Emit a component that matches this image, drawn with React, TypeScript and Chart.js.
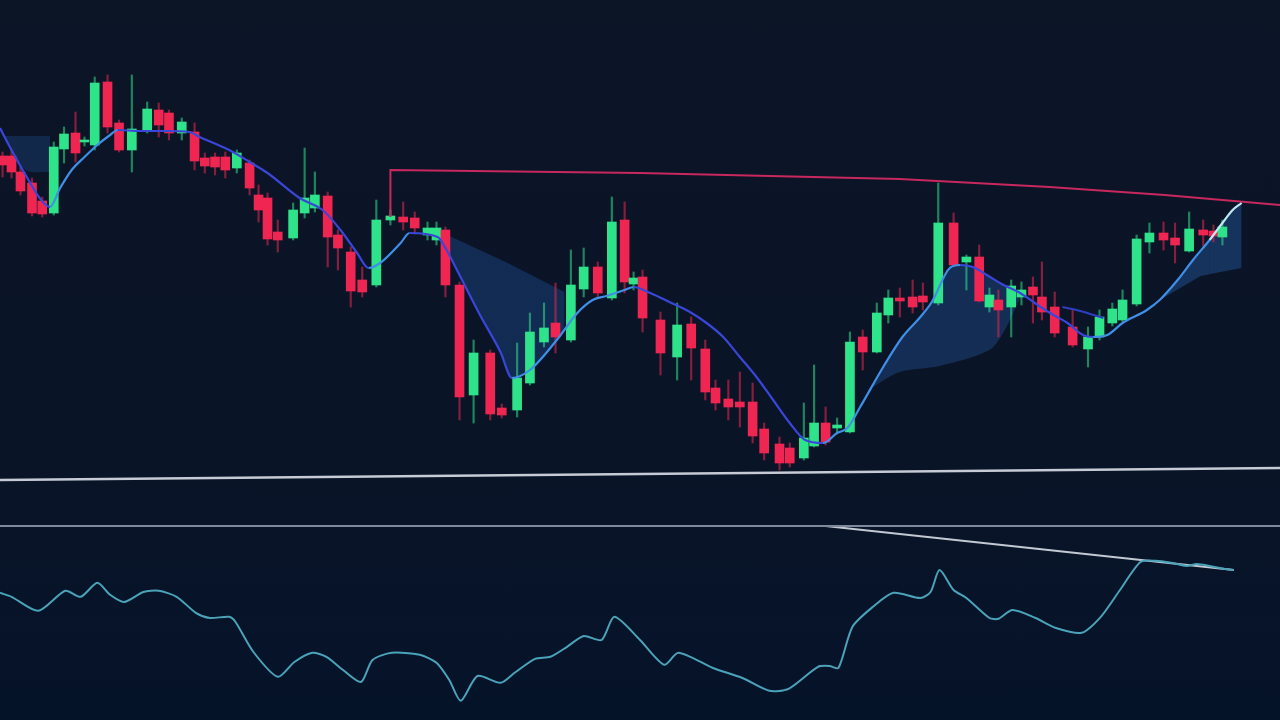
import { useEffect, useRef } from 'react';
import { Chart, registerables } from 'chart.js';

Chart.register(...registerables);

// ---- Candles (time in session units, prices) ----
const times = [
  0.2, 0.9, 1.6, 2.5, 3.3, 4.2, 5.0, 5.9, 6.6, 7.4,
  8.4, 9.3, 10.3, 11.5, 12.4, 13.2, 14.2, 15.2, 16.0, 16.8,
  17.6, 18.5, 19.5, 20.2, 20.9, 21.7, 22.9, 23.8, 24.6, 25.6,
  26.4, 27.4, 28.3, 29.4, 30.5, 31.5, 32.4, 33.4, 34.1, 34.8,
  35.9, 37.0, 38.3, 39.2, 40.4, 41.4, 42.5, 43.4, 44.6, 45.6,
  46.7, 47.8, 48.8, 49.5, 50.2, 51.6, 52.9, 54.0, 55.1, 55.9,
  56.9, 57.8, 58.8, 59.7, 60.9, 61.7, 62.8, 63.6, 64.5, 65.4,
  66.4, 67.4, 68.5, 69.4, 70.3, 71.3, 72.1, 73.3, 74.5, 75.5,
  76.5, 77.3, 78.0, 79.0, 79.8, 80.7, 81.4, 82.4, 83.8, 85.0,
  85.9, 86.9, 87.7, 88.8, 89.8, 90.9, 91.8, 92.9, 94.0, 94.8,
  95.5,
];
const opens = [
  56.4, 56.4, 54.8, 53.7, 51.9, 50.7, 57.1, 58.7, 57.8, 57.5,
  63.8, 59.7, 57.0, 59.0, 61.0, 60.7, 58.7, 58.8, 56.2, 56.3,
  56.3, 55.2, 55.7, 52.5, 52.2, 48.8, 48.2, 50.7, 51.2, 52.4,
  48.5, 46.8, 44.0, 43.5, 50.0, 50.3, 50.2, 48.5, 48.0, 49.0,
  43.5, 32.5, 36.7, 31.2, 31.0, 33.7, 37.8, 39.7, 38.0, 43.1,
  45.3, 42.2, 50.0, 43.6, 44.3, 40.0, 36.3, 39.6, 37.1, 33.2,
  32.1, 31.8, 31.8, 29.1, 27.6, 27.2, 26.2, 27.4, 29.7, 29.2,
  28.8, 38.3, 36.8, 40.5, 42.2, 42.3, 42.4, 41.7, 49.7, 45.8,
  46.3, 41.3, 42.0, 41.3, 42.3, 43.3, 42.3, 41.3, 39.3, 37.1,
  38.3, 39.7, 40.0, 41.6, 47.8, 48.7, 48.2, 46.9, 49.0, 48.9,
  48.3,
];
const closes = [
  55.5, 54.8, 52.9, 50.7, 50.6, 57.3, 58.6, 56.7, 58.0, 63.7,
  59.3, 57.0, 59.1, 61.1, 59.5, 58.7, 59.8, 55.9, 55.4, 55.3,
  55.0, 56.7, 53.2, 51.0, 48.1, 48.0, 51.0, 52.2, 52.5, 48.3,
  47.2, 42.9, 42.8, 50.0, 50.4, 49.8, 49.2, 49.2, 49.2, 43.5,
  32.3, 36.7, 30.6, 30.5, 34.2, 38.8, 39.2, 38.3, 43.5, 45.3,
  42.7, 49.8, 43.8, 44.2, 40.2, 36.7, 39.5, 37.2, 32.8, 31.7,
  31.3, 31.3, 28.4, 26.7, 25.7, 25.7, 28.2, 29.7, 27.8, 29.5,
  37.8, 36.8, 40.7, 42.2, 41.9, 41.3, 41.8, 49.7, 45.5, 46.3,
  41.9, 42.5, 41.0, 43.4, 43.0, 42.5, 40.8, 38.7, 37.5, 38.3,
  40.3, 41.1, 42.0, 48.1, 48.7, 48.0, 47.5, 49.1, 48.5, 48.4,
  49.3,
];
const highs = [
  56.8, 57.0, 55.3, 54.2, 52.3, 57.8, 59.3, 60.8, 58.3, 64.3,
  64.5, 60.0, 64.5, 61.8, 61.7, 61.0, 60.2, 59.7, 56.7, 56.7,
  56.8, 57.0, 56.0, 53.5, 52.7, 50.0, 51.7, 57.2, 54.8, 52.8,
  49.0, 47.3, 45.3, 52.0, 51.0, 51.8, 50.8, 49.8, 49.8, 49.3,
  43.8, 38.0, 37.0, 31.6, 37.7, 40.7, 41.7, 43.7, 47.0, 47.2,
  45.8, 52.3, 51.8, 44.8, 45.0, 40.8, 41.7, 40.3, 38.0, 34.0,
  34.0, 34.8, 33.7, 29.7, 28.3, 27.7, 31.7, 35.5, 31.3, 30.2,
  38.8, 39.0, 41.7, 43.0, 43.2, 44.0, 43.7, 53.7, 50.7, 46.5,
  47.5, 43.2, 43.0, 44.0, 43.8, 44.3, 45.8, 42.8, 41.0, 39.3,
  41.0, 41.7, 43.0, 48.5, 49.7, 49.8, 49.7, 50.8, 50.0, 49.5,
  50.0,
];
const lows = [
  54.3, 54.2, 52.5, 50.4, 50.3, 50.5, 55.7, 55.8, 57.4, 57.0,
  58.7, 56.8, 54.8, 58.7, 58.3, 58.0, 58.0, 55.0, 54.7, 54.5,
  54.2, 54.7, 52.5, 49.8, 47.5, 46.8, 48.0, 50.2, 50.8, 45.3,
  45.0, 41.3, 42.3, 43.3, 49.5, 49.0, 48.6, 48.0, 47.5, 42.3,
  30.0, 29.7, 30.0, 30.2, 30.3, 33.5, 37.3, 36.7, 37.8, 42.3,
  42.3, 42.0, 42.7, 43.0, 38.8, 34.5, 34.0, 34.0, 32.0, 31.0,
  30.0, 29.3, 27.7, 26.0, 25.0, 25.3, 26.0, 27.3, 27.5, 28.7,
  28.7, 35.0, 36.7, 39.7, 40.3, 40.7, 41.0, 41.5, 45.5, 43.0,
  41.8, 40.8, 38.3, 38.3, 41.5, 39.7, 40.0, 38.3, 37.3, 35.3,
  38.0, 39.4, 39.8, 41.4, 46.7, 47.0, 45.7, 46.8, 47.4, 47.8,
  47.5,
];

// ---- Moving average ----
const maTimes = [
  0, 0.9, 2.0, 3.1, 3.9, 4.7, 5.6, 6.6, 7.6, 8.6,
  9.2, 10.9, 12.9, 14.8, 15.6, 18.2, 19.5, 20.9, 23.4, 25.2,
  26.6, 27.9, 28.8, 29.7, 31.3, 32.0, 34.2, 34.8, 35.9, 37.5,
  39.1, 40.0, 41.4, 43.5, 45.1, 46.3, 47.4, 48.8, 49.5, 50.8,
  52.3, 53.9, 55.2, 56.5, 57.8, 59.1, 60.4, 61.7, 62.9, 64.3,
  65.4, 66.2, 67.2, 69.0, 70.5, 71.9, 72.8, 74.2, 75.0, 76.0,
  77.1, 78.4, 79.7, 81.3, 82.3, 83.4, 84.6, 85.4, 86.5, 87.7,
  89.6, 90.6, 92.0, 93.2, 94.5, 95.5, 96.3, 97.0,
];
const maValues = [
  59.2, 57.0, 54.5, 52.2, 51.3, 53.2, 55.0, 56.3, 57.5, 58.5,
  59.0, 58.9, 58.9, 58.8, 58.3, 56.8, 55.8, 54.7, 52.2, 51.0,
  49.0, 46.7, 45.2, 45.7, 47.7, 48.7, 48.3, 47.2, 44.5, 40.5,
  36.8, 34.2, 35.0, 38.0, 40.7, 42.0, 42.4, 43.0, 43.3, 42.7,
  41.8, 40.8, 39.7, 38.3, 36.3, 34.3, 32.0, 29.7, 28.0, 27.7,
  28.7, 29.2, 31.3, 35.3, 38.3, 40.3, 41.8, 45.2, 45.5, 45.3,
  44.5, 43.5, 42.7, 41.3, 40.5, 39.7, 38.5, 38.3, 38.5, 39.7,
  41.0, 42.0, 44.0, 46.0, 48.0, 49.7, 51.0, 51.7,
];
const ma2Times = [83.0, 84.4, 86.2];
const ma2Values = [41.3, 40.9, 40.2];

// ---- Cloud boundaries ----
const cloudATopTimes = [0.4, 2.0, 3.9];
const cloudATopValues = [58.4, 58.4, 58.4];
const cloudABottomTimes = [0.4, 2.0, 3.9];
const cloudABottomValues = [58.0, 55.0, 54.8];
const cloudBTimes = [34.6, 39.5, 44.1];
const cloudBValues = [48.7, 45.8, 42.8];
const cloudCTimes = [67.8, 70.3, 73.4, 77.3, 78.5, 79.7];
const cloudCValues = [33.0, 34.8, 35.4, 37.0, 39.0, 42.2];
const cloudDTimes = [89.8, 93.8, 97.0];
const cloudDValues = [41.4, 44.4, 45.2];

// ---- Drawn lines ----
const resistTimes = [30.5, 30.5, 50.0, 70.3, 82.0, 91.0, 100.0];
const resistValues = [50.3, 55.0, 54.7, 54.1, 53.3, 52.5, 51.5];
const supportTimes = [0, 100];
const supportValues = [24.0, 25.2];

// ---- Oscillator panel ----
const oscTimes = [
  0.0, 0.9, 3.0, 5.1, 6.3, 7.6, 8.6, 9.7, 11.2, 12.4,
  13.8, 15.3, 16.4, 17.9, 18.4, 19.8, 21.7, 23.0, 24.4, 25.5,
  26.8, 28.2, 29.1, 30.6, 32.8, 34.1, 35.1, 36.0, 37.3, 39.1,
  40.2, 41.8, 43.0, 44.3, 45.6, 47.0, 48.0, 50.0, 51.9, 53.0,
  55.7, 58.0, 60.1, 61.6, 63.9, 64.8, 65.5, 66.6, 68.2, 69.8,
  71.9, 72.7, 73.4, 74.5, 75.5, 77.3, 78.0, 79.1, 80.9, 82.5,
  84.5, 86.0, 87.5, 89.1, 90.3, 91.5, 92.7, 93.5, 94.5, 95.6,
  96.4,
];
const oscValues = [
  53.3, 52.3, 48.8, 53.8, 52.3, 55.8, 52.8, 51.0, 53.5, 53.8,
  52.3, 48.3, 47.0, 47.3, 46.0, 38.5, 32.3, 36.0, 38.3, 37.3,
  34.0, 31.0, 36.5, 38.3, 37.8, 35.8, 31.5, 26.3, 32.5, 30.8,
  33.3, 36.8, 37.3, 39.8, 42.5, 41.5, 47.3, 41.5, 35.3, 38.3,
  34.5, 32.0, 28.8, 29.3, 34.8, 35.0, 34.5, 44.8, 49.8, 53.3,
  52.0, 53.5, 59.0, 54.0, 52.0, 47.0, 46.8, 49.0, 47.0, 44.5,
  43.3, 47.3, 54.0, 61.0, 61.3, 60.8, 60.0, 60.5, 60.0, 59.3,
  59.0,
];
const oscLevelTimes = [0, 100];
const oscLevelValues = [70, 70];
const oscTrendTimes = [64.5, 96.4];
const oscTrendValues = [70.0, 59.0];

const GREEN = '#2fe38a';
const RED = '#ee2651';

function pts(xs: number[], ys: number[]) {
  return xs.map((x, i) => ({ x, y: ys[i] }));
}

export default function App() {
  const ref = useRef<HTMLCanvasElement>(null);

  useEffect(() => {
    const canvas = ref.current;
    if (!canvas) return;
    const up = opens.map((o, i) => closes[i] >= o);

    const lineBase = {
      type: 'line' as const,
      pointRadius: 0,
      pointHoverRadius: 0,
      fill: false,
    };

    const datasets: any[] = [
      // 0: moving average
      {
        ...lineBase,
        label: 'MA',
        data: pts(maTimes, maValues),
        borderColor: '#3a46d8',
        borderWidth: 2.2,
        cubicInterpolationMode: 'monotone',
        yAxisID: 'y',
        order: 0,
        segment: {
          borderColor: (ctx: any) => {
            if (ctx.p0.parsed.x >= 94.0) return '#bfe9f2';
            return ctx.p1.parsed.y > ctx.p0.parsed.y ? '#3f8fe6' : '#3a46d8';
          },
        },
      },
      // 1: cloud A top (fills to next)
      {
        ...lineBase,
        label: 'cloudA',
        data: pts(cloudATopTimes, cloudATopValues),
        borderWidth: 0,
        borderColor: 'rgba(0,0,0,0)',
        backgroundColor: 'rgba(40,95,170,0.28)',
        fill: '+1',
        tension: 0.3,
        yAxisID: 'y',
        order: 6,
      },
      // 2: cloud A bottom
      {
        ...lineBase,
        label: 'cloudA2',
        data: pts(cloudABottomTimes, cloudABottomValues),
        borderWidth: 0,
        borderColor: 'rgba(0,0,0,0)',
        tension: 0.3,
        yAxisID: 'y',
        order: 6,
      },
      // 3: cloud B
      {
        ...lineBase,
        label: 'cloudB',
        data: pts(cloudBTimes, cloudBValues),
        borderWidth: 0,
        borderColor: 'rgba(0,0,0,0)',
        backgroundColor: 'rgba(40,100,185,0.30)',
        fill: 0,
        yAxisID: 'y',
        order: 6,
      },
      // 4: cloud C
      {
        ...lineBase,
        label: 'cloudC',
        data: pts(cloudCTimes, cloudCValues),
        borderWidth: 0,
        borderColor: 'rgba(0,0,0,0)',
        backgroundColor: 'rgba(40,100,185,0.32)',
        fill: 0,
        tension: 0.3,
        yAxisID: 'y',
        order: 6,
      },
      // 5: cloud D
      {
        ...lineBase,
        label: 'cloudD',
        data: pts(cloudDTimes, cloudDValues),
        borderWidth: 0,
        borderColor: 'rgba(0,0,0,0)',
        backgroundColor: 'rgba(45,110,195,0.34)',
        fill: 0,
        yAxisID: 'y',
        order: 6,
      },
      // second short average
      {
        ...lineBase,
        label: 'MA2',
        data: pts(ma2Times, ma2Values),
        borderColor: '#2d3fc0',
        borderWidth: 2,
        tension: 0.3,
        yAxisID: 'y',
        order: 1,
      },
      // resistance line
      {
        ...lineBase,
        label: 'resistance',
        data: pts(resistTimes, resistValues),
        borderColor: '#c8285e',
        borderWidth: 2,
        tension: 0,
        yAxisID: 'y',
        order: 1,
      },
      // support line
      {
        ...lineBase,
        label: 'support',
        data: pts(supportTimes, supportValues),
        borderColor: '#c6cbd5',
        borderWidth: 2.5,
        yAxisID: 'y',
        order: 1,
      },
      // wicks
      {
        type: 'bar',
        label: 'wicks',
        data: times.map((t, i) => ({ x: t, y: [lows[i], highs[i]] })),
        backgroundColor: up.map((u) => (u ? 'rgba(47,227,138,0.55)' : 'rgba(238,38,81,0.55)')),
        barThickness: 1.5,
        grouped: false,
        borderWidth: 0,
        yAxisID: 'y',
        order: 4,
      },
      // bodies
      {
        type: 'bar',
        label: 'bodies',
        data: times.map((t, i) => ({ x: t, y: [opens[i], closes[i]] })),
        backgroundColor: up.map((u) => (u ? GREEN : RED)),
        barThickness: 9,
        minBarLength: 2,
        grouped: false,
        borderWidth: 0,
        yAxisID: 'y',
        order: 3,
      },
      // oscillator level
      {
        ...lineBase,
        label: 'level',
        data: pts(oscLevelTimes, oscLevelValues),
        borderColor: '#7f899c',
        borderWidth: 2,
        yAxisID: 'y2',
        order: 2,
      },
      // oscillator trend
      {
        ...lineBase,
        label: 'oscTrend',
        data: pts(oscTrendTimes, oscTrendValues),
        borderColor: '#c3c9d3',
        borderWidth: 2,
        yAxisID: 'y2',
        order: 2,
      },
      // oscillator
      {
        ...lineBase,
        label: 'osc',
        data: pts(oscTimes, oscValues),
        borderColor: '#4aa3b8',
        borderWidth: 2,
        tension: 0.25,
        yAxisID: 'y2',
        order: 1,
      },
    ];

    const chart = new Chart(canvas, {
      type: 'bar',
      data: { datasets },
      options: {
        animation: false,
        responsive: false,
        events: [],
        layout: { padding: 0 },
        plugins: {
          legend: { display: false },
          tooltip: { enabled: false },
          filler: { drawTime: 'beforeDatasetsDraw', propagate: false },
        },
        scales: {
          x: { type: 'linear', min: 0, max: 100, display: false, offset: false },
          y: { type: 'linear', min: 0, max: 72, display: false },
          y2: { type: 'linear', min: 21.5, max: 201.5, display: false, position: 'right' },
        },
      } as any,
    });
    return () => chart.destroy();
  }, []);

  return (
    <div
      style={{
        position: 'fixed',
        left: 0,
        top: 0,
        width: 1280,
        height: 720,
        background: 'linear-gradient(180deg, #0b1526 0%, #0a1427 60%, #051329 100%)',
        overflow: 'hidden',
      }}
    >
      <canvas ref={ref} width={1280} height={720} style={{ display: 'block' }} />
    </div>
  );
}
